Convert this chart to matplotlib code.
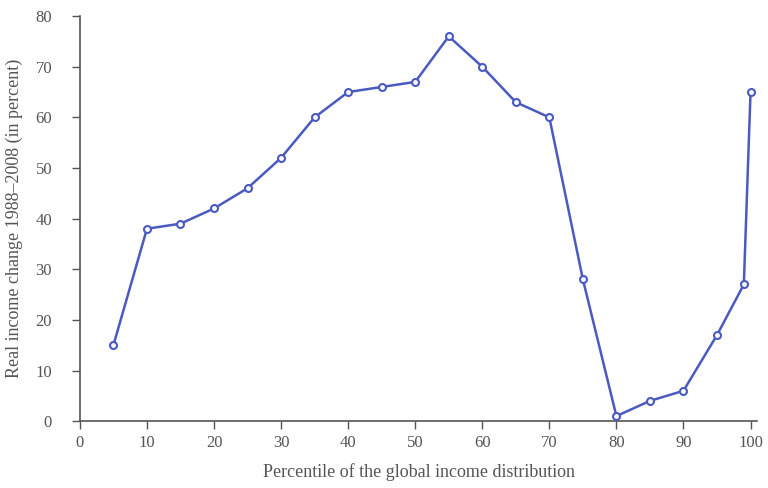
import numpy as np
import matplotlib
matplotlib.use("Agg")
import matplotlib.pyplot as plt

# percentile of global income distribution vs real income change (%)
percentile = [5, 10, 15, 20, 25, 30, 35, 40, 45, 50, 55, 60, 65, 70, 75, 80, 85, 90, 95, 99, 100]
income_change = [15, 38, 39, 42, 46, 52, 60, 65, 66, 67, 76, 70, 63, 60, 28, 1, 4, 6, 17, 27, 65]

x_ticks = [0, 10, 20, 30, 40, 50, 60, 70, 80, 90, 100]
y_ticks = [0, 10, 20, 30, 40, 50, 60, 70, 80]

plt.rcParams['font.family'] = ['Liberation Serif', 'DejaVu Serif']
text_col = '#555555'
axis_col = '#555555'
line_col = '#4a5ac0'

fig = plt.figure(figsize=(7.68, 4.88), dpi=100)
ax = fig.add_axes([0.104, 0.137, 0.882, 0.830])

ax.plot(percentile, income_change, color=line_col, lw=1.8,
        marker='o', ms=5, mfc='white', mec=line_col, mew=1.5, clip_on=False, zorder=3)

ax.set_xlim(0, 101)
ax.set_ylim(0, 80)
ax.set_xticks(x_ticks)
ax.set_yticks(y_ticks)

for s in ['top', 'right']:
    ax.spines[s].set_visible(False)
for s in ['left', 'bottom']:
    ax.spines[s].set_color(axis_col)
    ax.spines[s].set_linewidth(1.2)

ax.tick_params(axis='both', colors=axis_col, labelcolor=text_col, labelsize=12,
               length=6, width=1.0, direction='out')
ax.tick_params(axis='y', pad=14)
ax.tick_params(axis='x', pad=4)

ax.set_xlabel('Percentile of the global income distribution', fontsize=13,
              color=text_col, labelpad=9)
ax.set_ylabel('Real income change 1988\u20132008 (in percent)', fontsize=13,
              color=text_col, labelpad=9)

fig.savefig('out.png', dpi=100)
